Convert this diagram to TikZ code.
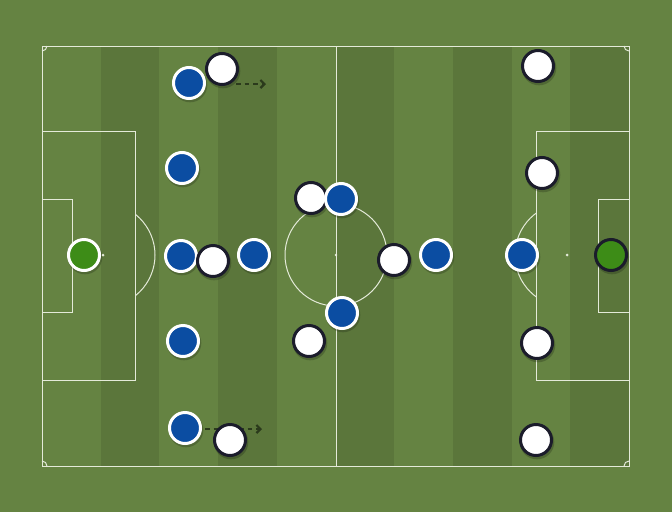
\documentclass[tikz,border=0pt]{standalone}
\usetikzlibrary{arrows.meta}
\definecolor{grassL}{HTML}{658342}
\definecolor{grassD}{HTML}{5B763B}
\definecolor{pline}{HTML}{E4EAD9}
\definecolor{pblue}{HTML}{0B4DA2}
\definecolor{pgreen}{HTML}{3D8C17}
\definecolor{pdark}{HTML}{1B1C2B}
\definecolor{arrowc}{HTML}{2B3A1C}
\begin{document}
\begin{tikzpicture}[x=1pt,y=-1pt,
  pitchline/.style={draw=pline,line width=1pt},
  shadow/.style={fill=black,fill opacity=0.2,draw=none},
  blueP/.style={circle,fill=pblue,draw=white,line width=3pt,minimum size=31pt,inner sep=0pt},
  whiteP/.style={circle,fill=white,draw=pdark,line width=3pt,minimum size=31pt,inner sep=0pt},
  gkL/.style={circle,fill=pgreen,draw=white,line width=3pt,minimum size=31pt,inner sep=0pt},
  gkR/.style={circle,fill=pgreen,draw=pdark,line width=3pt,minimum size=31pt,inner sep=0pt},
  run/.style={draw=arrowc,line width=2.2pt,dash pattern=on 4.5pt off 4pt,-{Straight Barb[length=4pt,width=8pt,line width=2.2pt]}}]
\useasboundingbox (0,0) rectangle (672,512);
\fill[grassL] (0,0) rectangle (672,512);
% stripes
\foreach \i in {1,3,5,7,9} {
  \fill[grassD] ({42+\i*58.7},46) rectangle ({42+(\i+1)*58.7},466);
}
% pitch markings
\draw[pitchline] (42,46) rectangle (629,466);
\draw[pitchline] (336,46) -- (336,466);
\draw[pitchline] (336,255) circle (51);
\fill[pline] (336,255) circle (1.3);
\draw[pitchline] (42,131) rectangle (135,380);
\draw[pitchline] (42,199) rectangle (72,312);
\draw[pitchline] (536,131) rectangle (629,380);
\draw[pitchline] (598,199) rectangle (629,312);
\fill[pline] (103,255) circle (1.5);
\fill[pline] (567,255) circle (1.5);
% penalty arcs
\begin{scope}
\clip (135,0) rectangle (672,512);
\draw[pitchline] (103,255) circle (52);
\end{scope}
\begin{scope}
\clip (0,0) rectangle (536,512);
\draw[pitchline] (567,255) circle (52);
\end{scope}
% corner arcs
\draw[pitchline] (47,46) arc[start angle=0,end angle=90,radius=5];
\draw[pitchline] (624,46) arc[start angle=180,end angle=90,radius=5];
\draw[pitchline] (47,466) arc[start angle=0,end angle=-90,radius=5];
\draw[pitchline] (624,466) arc[start angle=180,end angle=270,radius=5];
% runs
\coordinate (r1s) at (236,84);
\coordinate (r1e) at (266,84);
\coordinate (r2s) at (205,429);
\coordinate (r2e) at (262,429);
\draw[run] (r1s) -- (r1e);
\draw[run] (r2s) -- (r2e);
% shadows
\foreach \x/\y in {189/83,182/168,181/256,183/341,185/428,254/255,341/199,342/313,436/255,522/255,84/255,
                   222/69,213/261,311/198,309/341,394/260,230/440,538/66,542/173,537/343,536/440,611/255} {
  \fill[shadow] (\x+1,\y+2) circle (17.3);
}
% players
\node[whiteP] (w3) at (311,198) {};
\node[gkL] (gk1) at (84,255) {};
\node[blueP] (b1) at (189,83) {};
\node[blueP] (b2) at (182,168) {};
\node[blueP] (b3) at (181,256) {};
\node[blueP] (b4) at (183,341) {};
\node[blueP] (b5) at (185,428) {};
\node[blueP] (b6) at (254,255) {};
\node[blueP] (b7) at (341,199) {};
\node[blueP] (b8) at (342,313) {};
\node[blueP] (b9) at (436,255) {};
\node[blueP] (b10) at (522,255) {};
\node[whiteP] (w1) at (222,69) {};
\node[whiteP] (w2) at (213,261) {};
\node[whiteP] (w4) at (309,341) {};
\node[whiteP] (w5) at (394,260) {};
\node[whiteP] (w6) at (230,440) {};
\node[whiteP] (w7) at (538,66) {};
\node[whiteP] (w8) at (542,173) {};
\node[whiteP] (w9) at (537,343) {};
\node[whiteP] (w10) at (536,440) {};
\node[gkR] (gk2) at (611,255) {};
\end{tikzpicture}
\end{document}
